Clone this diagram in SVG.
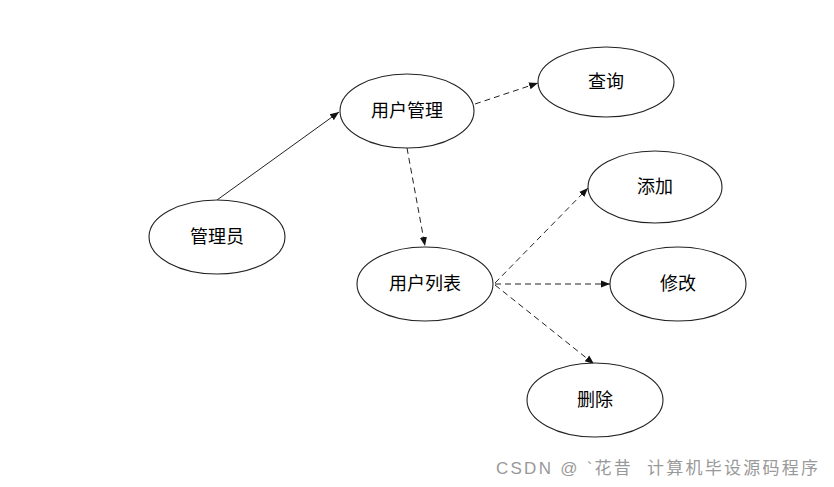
<svg xmlns="http://www.w3.org/2000/svg" width="834" height="487" viewBox="0 0 834 487">
<style>
.n ellipse{fill:#fff;stroke:#222;stroke-width:1.1}
.n text{font-family:"Liberation Sans","Noto Sans CJK SC",sans-serif;font-size:18px;fill:#000;text-anchor:middle;dominant-baseline:central}
.c line{stroke:#222;stroke-width:1;marker-end:url(#ah)}
.c .d{stroke-dasharray:6 4}
.wm{font-family:"Liberation Sans","Noto Sans CJK SC",sans-serif;font-size:17px;fill:#999;white-space:pre}
</style>
<defs>
<marker id="ah" viewBox="0 0 10 10" refX="10" refY="5" markerWidth="9" markerHeight="9" markerUnits="userSpaceOnUse" orient="auto">
<path d="M0,1 L10,5 L0,9 Z" fill="#111"/>
</marker>
</defs>
<rect width="834" height="487" fill="#fff"/>
<g class="c">
<line x1="217" y1="200" x2="339" y2="112"/>
<line class="d" x1="475" y1="104" x2="538" y2="83"/>
<line class="d" x1="407" y1="148" x2="425" y2="246"/>
<line class="d" x1="495" y1="283" x2="588" y2="188"/>
<line class="d" x1="495" y1="284" x2="610" y2="284"/>
<line class="d" x1="495" y1="285" x2="594" y2="364"/>
</g>
<g id="n_admin" class="n"><ellipse cx="217" cy="237" rx="68" ry="37"/><text x="217" y="237">管理员</text></g>
<g id="n_usermgmt" class="n"><ellipse cx="407" cy="111" rx="67" ry="37"/><text x="407" y="111">用户管理</text></g>
<g id="n_query" class="n"><ellipse cx="606" cy="82" rx="68" ry="35"/><text x="606" y="82">查询</text></g>
<g id="n_add" class="n"><ellipse cx="655" cy="187" rx="67" ry="36"/><text x="655" y="187">添加</text></g>
<g id="n_userlist" class="n"><ellipse cx="425" cy="284" rx="68" ry="37"/><text x="425" y="284">用户列表</text></g>
<g id="n_edit" class="n"><ellipse cx="678" cy="284" rx="68" ry="37"/><text x="678" y="284">修改</text></g>
<g id="n_delete" class="n"><ellipse cx="595" cy="400" rx="68" ry="37"/><text x="595" y="400">删除</text></g>
<text class="wm" x="496" y="474" textLength="322" lengthAdjust="spacing">CSDN @ `花昔  计算机毕设源码程序</text>
</svg>
